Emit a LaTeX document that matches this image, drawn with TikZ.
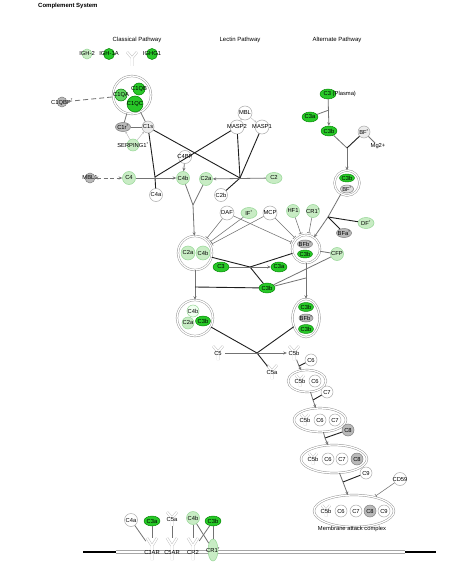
\documentclass[tikz,border=0pt]{standalone}
\usepackage{fontspec}
\setmainfont{Liberation Sans}
\usetikzlibrary{shapes.geometric,arrows.meta,calc}
\definecolor{bgreen}{RGB}{40,200,40}
\definecolor{mgreen}{RGB}{95,210,95}
\definecolor{lgreen}{RGB}{200,236,196}
\definecolor{lgdraw}{RGB}{150,215,150}
\definecolor{ngrey}{RGB}{185,185,185}
\definecolor{ndraw}{RGB}{170,170,170}
\definecolor{lnc}{RGB}{30,30,30}
\definecolor{arc}{RGB}{115,115,115}
\newcommand\mol[4]{\node[#1] (#2) at (#3) {}; \node[lbl] (#2-t) at (#2) {#4};}
\newcommand\ymol[4][1]{\node[inner sep=0pt,circle,minimum size=14pt] (#2) at (#3) {};
 \begin{scope}[shift={(#2)},scale=#1]\draw[yst] (-5,-7) -- (0,-1) -- (5,-7) (0,-1) -- (0,7);\end{scope}
 \node[lbl] (#2-t) at (#2) {#4};}
\newcommand\rmol[3]{\node[inner sep=0pt,rectangle,minimum width=12pt,minimum height=24pt] (#1) at (#2) {};
 \begin{scope}[shift={(#1)}]\draw[yst] (-5,-12) -- (0,-4) -- (5,-12) (0,-4) -- (0,10);\end{scope}
 \node[lbl] (#1-t) at ($(#1)+(0,2)$) {#3};}
\begin{document}
\begin{tikzpicture}[x=1pt,y=-1pt,
 lbl/.style={font=\fontsize{5.8}{6}\selectfont,inner sep=0pt},
 hdr/.style={font=\fontsize{6}{7}\selectfont,inner sep=0pt},
 mb/.style={circle,inner sep=0pt,minimum size=13pt,line width=0.5pt},
 wh/.style={mb,draw=ndraw,fill=white},
 lg/.style={mb,draw=lgdraw,fill=lgreen},
 gy/.style={mb,draw=gray,fill=ngrey},
 lgy/.style={mb,draw=ndraw,fill=gray!15},
 gc/.style={mb,draw=green!50!black,fill=bgreen},
 bg/.style={ellipse,inner sep=0pt,minimum width=16pt,minimum height=10pt,line width=0.4pt,draw=green!50!black,fill=bgreen},
 ge/.style={ellipse,inner sep=0pt,minimum width=15pt,minimum height=9pt,line width=0.5pt,draw=gray,fill=ngrey},
 cx/.style={draw=gray!85,double=white,double distance=1.3pt,line width=0.45pt,inner sep=0pt},
 yst/.style={draw=gray!50,double=white,double distance=1.6pt,line width=0.45pt},
 bl/.style={draw=lnc,line width=0.9pt},
 gl/.style={draw=arc,line width=0.8pt},
 ga/.style={gl,-{Stealth[length=3.5pt,width=3pt]}},
 inh/.style={draw=arc,line width=0.55pt,-{Bar[width=4pt]},shorten >=2pt},
 fa/.style={draw=gray!55,line width=0.4pt,-{Stealth[length=2pt,width=2pt]}},
]
\useasboundingbox (0,0) rectangle (474,564);
\fill[white] (0,0) rectangle (474,564);

% headings
\node[font=\bfseries\fontsize{6}{7}\selectfont,inner sep=0pt,anchor=west] (title) at (38,6) {Complement System};
\node[hdr] (hcl) at (137,40) {Classical Pathway};
\node[hdr] (hle) at (240,40) {Lectin Pathway};
\node[hdr] (hal) at (337,40) {Alternate Pathway};

% membrane
\draw[black,line width=2.6pt] (83,552) -- (116,552) (405,552) -- (436,552);
\draw[gray!70,line width=0.6pt] (116,550.6) -- (405,550.6) (116,553.4) -- (405,553.4);

% antibodies
\mol{lg,minimum size=10pt}{igh2}{87,54}{IGH-2}
\mol{gc,minimum size=11pt}{igh1a}{109,54}{IGH-1A}
\ymol{ab}{132,59}{}
\mol{gc,minimum size=11pt}{ighg1}{152,54}{IGHG1}

% C1 complex
\node[cx,circle,minimum size=38pt] (c1) at (132,95) {};
\mol{gc,minimum size=12pt}{c1qb}{139,89}{C1QB}
\mol{mb,draw=green!50!black,fill=mgreen,minimum size=12pt}{c1qa}{121,95}{C1QA}
\mol{gc,minimum size=16pt}{c1qc}{135,104}{C1QC}
\mol{gy,minimum size=10pt}{c1qbp}{62,102}{C1QBP\textsuperscript{*}}
\mol{ge}{c1r}{123,127}{C1r\textsuperscript{*}}
\mol{lgy,minimum size=12pt}{c1s}{148,127}{C1s}
\mol{lg,minimum size=12pt}{serp}{133,145}{SERPING1\textsuperscript{*}}
\mol{wh,minimum size=13pt}{c4bp}{185,157}{C4BP}

% lectin
\mol{wh,minimum size=14pt}{mbl}{245,113}{MBL}
\mol{wh,minimum size=14pt}{masp2}{237,127}{MASP2}
\mol{wh,minimum size=14pt}{masp1}{262,127}{MASP1}

\mol{gy,minimum size=10pt}{mbl1}{90,178}{MBL1}
\mol{lg}{c4}{129,178}{C4}
\mol{lg}{c4b}{183,178}{C4b}
\mol{wh}{c4a}{156,195}{C4a}
\mol{lg}{c2a}{206,179}{C2a}
\mol{lg,ellipse,minimum width=16pt,minimum height=11pt}{c2}{274,178}{C2}
\mol{wh}{c2b}{221,195}{C2b}

% classical C3 convertase
\node[cx,circle,minimum size=34pt] (c3cl) at (195,253) {};
\mol{lg,minimum size=14pt}{c2ai}{188,253}{C2a}
\mol{lg,minimum size=14pt}{c4bi}{203,253}{C4b}

% regulators
\mol{wh,minimum size=14pt}{daf}{227,213}{DAF}
\mol{lg,ellipse,minimum width=16pt,minimum height=11pt}{ifac}{249,213}{IF\textsuperscript{*}}
\mol{wh,minimum size=14pt}{mcp}{270,213}{MCP}
\mol{lg}{hf1}{293,211}{HF1}
\mol{lg}{cr1}{313,211}{CR1\textsuperscript{*}}

% alternate
\node[bg] (c3p) at (328,94) {};
\node[lbl,anchor=west] (c3p-t) at (323.5,94) {C3 (Plasma)};
\mol{bg}{c3a}{310,117}{C3a}
\mol{bg}{c3b}{329,131}{C3b}
\mol{lgy,minimum size=12pt}{bf}{364,132}{BF\textsuperscript{*}}
\node[lbl] (mg) at (378,146) {Mg2+};
\node[cx,circle,minimum size=25pt] (c3alt) at (347,183) {};
\mol{bg,minimum width=15pt,minimum height=8pt}{c3bi}{347,178}{C3b}
\mol{ge,fill=gray!25,minimum width=13pt,minimum height=8pt}{bfi}{347,189}{BF\textsuperscript{*}}
\mol{lg,ellipse,minimum width=16pt,minimum height=11pt}{df}{366,223}{DF\textsuperscript{*}}
\mol{ge}{bfa}{344,233}{BFa\textsuperscript{*}}
\node[cx,circle,minimum size=28pt] (bfbc) at (306,249) {};
\mol{ge,minimum width=15pt,minimum height=8pt}{bfbi}{305,244}{BFb\textsuperscript{*}}
\mol{bg,minimum width=15pt,minimum height=8pt}{c3bj}{305,254}{C3b}
\mol{lg}{cfp}{337,254}{CFP}

% C3 cleavage
\mol{bg}{c3}{221,267}{C3}
\mol{bg}{c3ac}{279,267}{C3a}
\mol{bg}{c3bc}{267,288}{C3b}

% C5 convertases
\node[cx,circle,minimum size=36pt] (c5cl) at (195,318) {};
\mol{mb,draw=lgdraw,fill=green!6,minimum size=12pt}{c4bk}{193,311}{C4b}
\mol{lg,minimum size=12pt}{c2ak}{188,323}{C2a}
\mol{bg,minimum width=15pt,minimum height=10pt}{c3bk}{203,321}{C3b}
\node[cx,ellipse,minimum width=27pt,minimum height=38pt] (c5alt) at (306,318) {};
\mol{bg,minimum width=15pt,minimum height=9pt}{c3bl}{306,307}{C3b}
\mol{ge,minimum width=14pt,minimum height=8pt}{bfbl}{306,318}{BFb\textsuperscript{*}}
\mol{bg,minimum width=15pt,minimum height=9pt}{c3bm}{306,329}{C3b}

% C5 cleavage
\ymol{c5}{218,353}{C5}
\ymol{c5b}{294,353}{C5b}
\ymol{c5a}{272,372}{C5a}
\mol{wh,minimum size=12pt}{c6}{311,360}{C6}

% MAC assembly
\node[cx,ellipse,minimum width=38pt,minimum height=22pt] (c56) at (307,381) {};
\ymol[0.8]{c5bA}{300,381}{C5b}
\mol{wh,minimum size=12pt}{c6A}{315,381}{C6}
\mol{wh,minimum size=12pt}{c7}{327,392}{C7}

\node[cx,ellipse,minimum width=52pt,minimum height=24pt] (c567) at (320,420) {};
\ymol[0.8]{c5bB}{305,420}{C5b}
\mol{wh,minimum size=12pt}{c6B}{320,420}{C6}
\mol{wh,minimum size=12pt}{c7B}{335,420}{C7}
\mol{gy,minimum size=12pt}{c8}{348,430}{C8}

\node[cx,ellipse,minimum width=66pt,minimum height=28pt] (c5678) at (334,459) {};
\ymol[0.8]{c5bC}{313,459}{C5b}
\mol{wh,minimum size=12pt}{c6C}{328,459}{C6}
\mol{wh,minimum size=12pt}{c7C}{342,459}{C7}
\mol{gy,minimum size=12pt}{c8C}{357,459}{C8}
\mol{wh,minimum size=12pt}{c9}{366,473}{C9}

\node[cx,ellipse,minimum width=80pt,minimum height=32pt] (mac) at (354,511) {};
\ymol[0.8]{c5bD}{326,511}{C5b}
\mol{wh,minimum size=12pt}{c6D}{341,511}{C6}
\mol{wh,minimum size=12pt}{c7D}{356,511}{C7}
\mol{gy,minimum size=12pt}{c8D}{370,511}{C8}
\mol{wh,minimum size=12pt}{c9D}{384,511}{C9}
\mol{wh,minimum size=13pt}{cd59}{400,479}{CD59}
\node[lbl] (maclbl) at (352,529) {Membrane attack complex};

% bottom ligands / receptors
\mol{wh}{c4aM}{131,520}{C4a}
\mol{bg}{c3aM}{152,521}{C3a}
\ymol{c5aM}{172,519}{C5a}
\mol{lg}{c4bM}{193,518}{C4b}
\mol{bg}{c3bM}{213,521}{C3b}
\rmol{c3ar}{152,550}{C3AR}
\rmol{c5ar}{172,550}{C5AR}
\rmol{cr2}{193,550}{CR2}
\mol{lg,ellipse,minimum width=10pt,minimum height=22pt}{cr1M}{213,550}{CR1\textsuperscript{*}}

% ---------- connectors ----------
\coordinate (j1) at (155,177);
\coordinate (j2) at (240,178);
\coordinate (k1) at (193,205);
\coordinate (j5) at (329,110);
\coordinate (j6) at (347,148);
\coordinate (j7) at (328,217);
\coordinate (j3) at (250,267);
\coordinate (k2) at (195,287);
\coordinate (k3) at (306,278);
\coordinate (j4) at (257,353);
\coordinate (j8) at (299,366);
\coordinate (j9) at (313,400);
\coordinate (j10) at (325,438);
\coordinate (j11) at (343,482);

\draw[gl,dash pattern=on 5pt off 3pt] (c1qbp) -- (c1);
\draw[gl] (c1) -- (c1r);
\draw[gl] (c1) -- (c1s);
\draw[gl] (c1r) -- (c1s);
\draw[fa] (serp) -- (c1r);
\draw[fa] (serp) -- (c1s);
\draw[fa] (mbl) -- (masp2);
\draw[fa] (mbl) -- (masp1);

\draw[bl] (c1s) -- (j1) -- (c4a);
\draw[bl] (c1s) -- (j2);
\draw[bl] (masp2) -- (j1);
\draw[bl] (masp2) -- (j2);
\draw[bl] (masp1) -- (j2);
\draw[bl] (j2) -- (c2b);
\draw[ga] (c4) -- (c4b);
\draw[ga] (c2) -- (c2a);
\draw[ga] (c4bp) -- (c4b);
\draw[gl,dash pattern=on 4pt off 2.5pt,{Stealth[length=3pt,width=3pt]}-{Stealth[length=3.5pt,width=3pt]}] (mbl1) -- (c4);

\draw[gl] (c4b) -- (k1);
\draw[gl] (c2a) -- (k1);
\draw[ga] (k1) -- (c3cl);

\draw[ga] (c3p) -- (c3b);
\draw[gl] (j5) -- (c3a);
\draw[gl] (c3b) -- (j6);
\draw[bl] (bf) -- (j6);
\draw[gl] (bf) -- (mg);
\draw[ga] (j6) -- (c3alt);
\draw[gl] (c3alt) -- (j7);
\draw[ga] (j7) -- (bfbc);
\draw[bl] (j7) -- (df);
\draw[bl] (j7) -- (bfa);
\draw[gl] (bfbc) -- (cfp);

\draw[inh] (daf) -- (c3cl);
\draw[inh] (ifac) -- (c3cl);
\draw[inh] (mcp) -- (c3cl);
\draw[inh] (daf) -- (bfbc);
\draw[inh] (mcp) -- (bfbc);
\draw[inh] (hf1) -- (bfbc);
\draw[inh] (cr1) -- (bfbc);

\draw[bl] (c3cl) -- (j3);
\draw[bl] (bfbc) -- (j3);
\draw[bl] (j3) -- (c3bc);
\draw[ga] (c3) -- (c3ac);

\draw[ga] (c3cl) -- (c5cl);
\draw[bl] (k2) -- (c3bc);
\draw[gl] (c3bc) -- (k3);
\draw[gl] (c3bc) -- (cfp);
\draw[ga] (bfbc) -- (c5alt);

\draw[bl] (c5cl) -- (j4);
\draw[bl] (c5alt) -- (j4);
\draw[bl] (j4) -- (c5a);
\draw[ga] (c5) -- (c5b);

\draw[gl] (c5b) -- (j8);
\draw[bl] (c6) -- (j8);
\draw[ga] (j8) -- (c56);
\draw[gl] (c56) -- (j9);
\draw[bl] (c7) -- (j9);
\draw[ga] (j9) -- (c567);
\draw[gl] (c567) -- (j10);
\draw[bl] (c8) -- (j10);
\draw[ga] (j10) -- (c5678);
\draw[gl] (c5678) -- (j11);
\draw[bl] (c9) -- (j11);
\draw[ga] (j11) -- (mac);
\draw[inh] (cd59) -- (mac);

\draw[gl] (c4aM) -- (c3ar);
\draw[gl] (c3aM) -- (c3ar);
\draw[gl] (c5aM) -- (c5ar);
\draw[gl] (c4bM) -- (cr2);
\draw[gl] (c4bM) -- (cr1M);
\draw[gl] (c3bM) -- (cr2);
\draw[gl] (c3bM) -- (cr1M);
\end{tikzpicture}
\end{document}
